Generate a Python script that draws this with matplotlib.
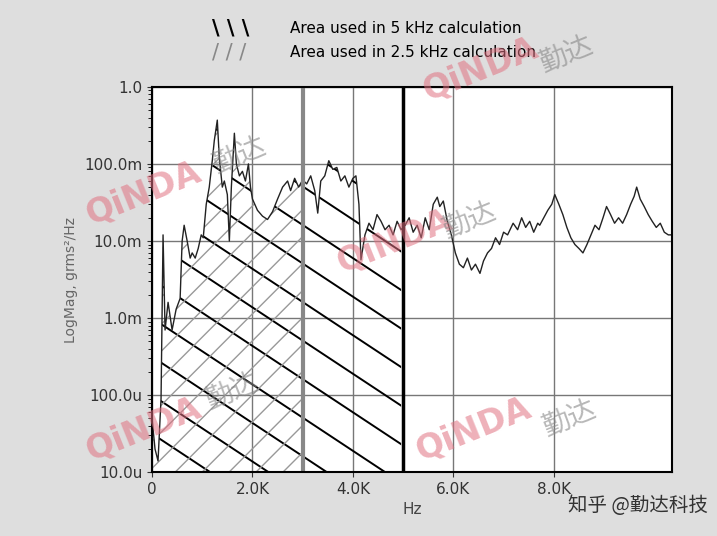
import numpy as np
import matplotlib.pyplot as plt

plt.rcParams['font.family'] = ['DejaVu Sans', 'Noto Sans CJK SC']

# spectrum (Hz, grms^2/Hz)
freq = [0, 60, 120, 180, 220, 260, 320, 400, 480, 560, 600, 640, 700, 760, 800, 860, 920, 980,
        1020, 1080, 1140, 1200, 1240, 1300, 1340, 1400, 1440, 1500, 1540, 1580, 1640, 1680, 1740,
        1800, 1860, 1920, 1960, 2000, 2100, 2200, 2300, 2400, 2500, 2600, 2700, 2760, 2840, 2920,
        3000, 3080, 3160, 3240, 3300, 3360, 3440, 3520, 3600, 3680, 3760, 3840, 3920, 4000, 4060,
        4120, 4160, 4240, 4320, 4400, 4480, 4560, 4640, 4720, 4800, 4880, 4960, 5040, 5120, 5200,
        5280, 5360, 5440, 5520, 5600, 5680, 5730, 5800, 5880, 5960, 6040, 6120, 6200, 6280, 6360,
        6440, 6530, 6600, 6680, 6760, 6840, 6920, 7000, 7080, 7190, 7280, 7360, 7440, 7520, 7600,
        7680, 7720, 7800, 7880, 7960, 8020, 8100, 8180, 8260, 8340, 8420, 8500, 8580, 8660, 8740,
        8820, 8900, 8980, 9050, 9130, 9210, 9290, 9370, 9450, 9530, 9600, 9650, 9720, 9800, 9880,
        9960, 10040, 10120, 10200, 10280, 10350]
mag = [5e-5, 2e-5, 1.4e-5, 9e-5, 1.2e-2, 7e-4, 1.6e-3, 7e-4, 1.3e-3, 1.8e-3, 1.0e-2, 1.6e-2, 1.0e-2,
       6e-3, 7e-3, 6e-3, 8e-3, 1.2e-2, 1.1e-2, 3e-2, 5e-2, 0.11, 0.2, 0.37, 0.12, 0.05, 0.06, 0.04,
       0.01, 0.05, 0.25, 0.1, 0.07, 0.08, 0.06, 0.10, 0.05, 0.035, 0.025, 0.021, 0.019, 0.024, 0.035,
       0.05, 0.06, 0.045, 0.065, 0.05, 0.062, 0.055, 0.07, 0.045, 0.023, 0.06, 0.07, 0.11, 0.085,
       0.09, 0.06, 0.07, 0.05, 0.065, 0.07, 0.03, 0.0057, 0.012, 0.017, 0.014, 0.022, 0.018, 0.014,
       0.016, 0.012, 0.018, 0.014, 0.016, 0.02, 0.013, 0.016, 0.011, 0.02, 0.014, 0.03, 0.037,
       0.028, 0.033, 0.018, 0.012, 0.007, 0.005, 0.0045, 0.006, 0.0042, 0.005, 0.0038, 0.0055,
       0.007, 0.008, 0.011, 0.009, 0.013, 0.012, 0.017, 0.014, 0.02, 0.015, 0.018, 0.013, 0.017,
       0.016, 0.02, 0.025, 0.03, 0.04, 0.03, 0.022, 0.015, 0.011, 0.009, 0.008, 0.007, 0.009,
       0.012, 0.016, 0.014, 0.02, 0.028, 0.022, 0.017, 0.02, 0.017, 0.022, 0.03, 0.038, 0.05,
       0.035, 0.028, 0.022, 0.018, 0.015, 0.017, 0.013, 0.012, 0.012]

xticks = [0, 2000, 4000, 6000, 8000]
xlabels = ['0', '2.0K', '4.0K', '6.0K', '8.0K']
yticks = [1e-5, 1e-4, 1e-3, 1e-2, 1e-1, 1]
ylabels = ['10.0u', '100.0u', '1.0m', '10.0m', '100.0m', '1.0']

bg = '#dedede'
fig = plt.figure(figsize=(7.17, 5.36), dpi=100, facecolor=bg)
ax = fig.add_axes([0.212, 0.119, 0.725, 0.719])
ax.set_yscale('log')
ax.set_xlim(0, 10350)
ax.set_ylim(1e-5, 1)

f = np.array(freq)
m = np.array(mag)


def hatch_area(fmax, slope, step, color, lw):
    # sparse diagonal hatch, clipped to the area under the curve
    sel = f <= fmax
    poly = ax.fill_between(f[sel], 1e-5, m[sel], facecolor='none', edgecolor='none')
    path, trans = poly.get_paths()[0], poly.get_transform()
    aspect = 520 / 385  # axes width / height in pixels
    for c in np.arange(-3, 3, step):
        xs = np.array([-0.1, 1.1])
        ys = c + slope * aspect * xs
        ln, = ax.plot(xs, ys, color=color, lw=lw, transform=ax.transAxes)
        ln.set_clip_path(path, trans)


hatch_area(5000, -0.66, 0.1, 'black', 1.4)
hatch_area(3000, 1.0, 0.07, '#999999', 1.0)

ax.plot(f, m, color='#222222', lw=1.0)

ax.grid(True, which='major', color='#777777', lw=1.0)
ax.axvline(3000, color='#888888', lw=3)
ax.axvline(5000, color='black', lw=2.5)

ax.set_xticks(xticks)
ax.set_xticklabels(xlabels)
ax.set_yticks(yticks)
ax.set_yticklabels(ylabels)
ax.tick_params(labelsize=11, colors='#333333')
ax.tick_params(which='minor', length=3)
ax.set_xlabel('Hz', fontsize=11, color='#444444')
ax.set_ylabel('LogMag, grms²/Hz', fontsize=10, color='#666666')
for s in ax.spines.values():
    s.set_linewidth(1.5)

fig.text(0.295, 0.947, '\\ \\ \\', fontsize=15, fontweight='bold', ha='left', va='center')
fig.text(0.295, 0.902, '/ / /', fontsize=15, color='#888888', ha='left', va='center')
fig.text(0.405, 0.947, 'Area used in 5 kHz calculation', fontsize=11, va='center')
fig.text(0.405, 0.902, 'Area used in 2.5 kHz calculation', fontsize=11, va='center')

wm = dict(color='#e07080', alpha=0.55, fontsize=24, fontweight='bold', rotation=22,
          ha='center', va='center', family=['DejaVu Sans', 'Noto Sans CJK SC'])
fig.text(0.67, 0.87, 'QiNDA', **wm)
fig.text(0.2, 0.64, 'QiNDA', **wm)
fig.text(0.55, 0.55, 'QiNDA', **wm)
fig.text(0.2, 0.2, 'QiNDA', **wm)
fig.text(0.66, 0.2, 'QiNDA', **wm)
gw = dict(color='#888888', alpha=0.6, fontsize=20, rotation=22, ha='center', va='center',
          family=['Noto Sans CJK SC'])
fig.text(0.79, 0.9, '勤达', **gw)
fig.text(0.335, 0.71, '勤达', **gw)
fig.text(0.655, 0.59, '勤达', **gw)
fig.text(0.325, 0.27, '勤达', **gw)
fig.text(0.795, 0.22, '勤达', **gw)
fig.text(0.89, 0.057, '知乎 @勤达科技', fontsize=14, color='#333333', ha='center', va='center',
         family=['Noto Sans CJK SC'])

fig.savefig('out.png', dpi=100, facecolor=bg)
